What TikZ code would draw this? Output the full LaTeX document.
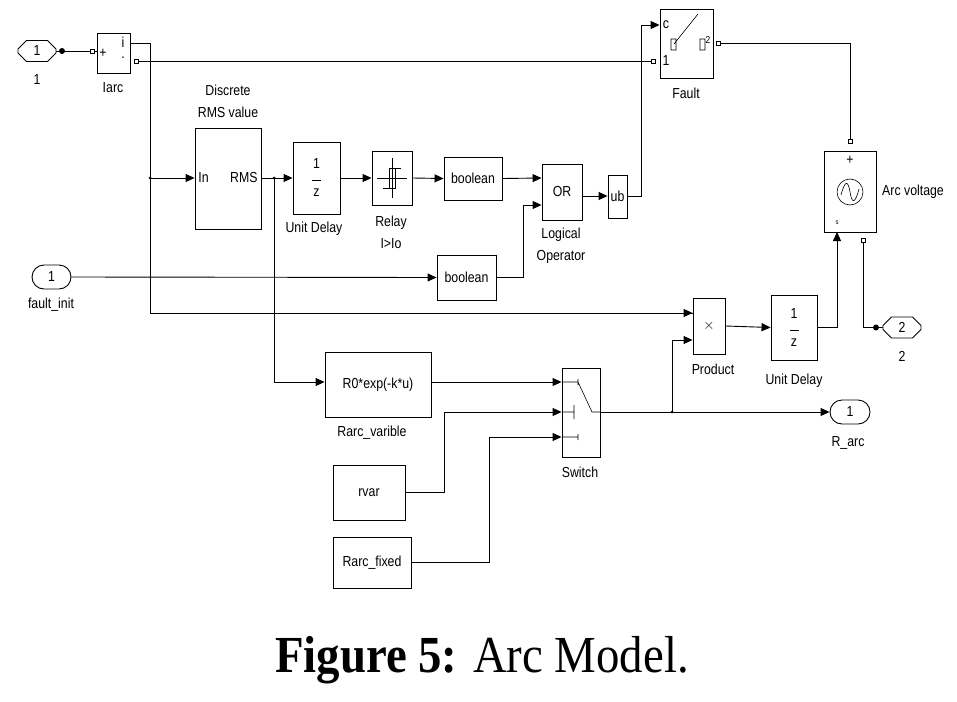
\documentclass[tikz,border=0pt]{standalone}
\usepackage{fontspec}
\setmainfont{Liberation Sans}[FakeStretch=0.85]
\newfontfamily\capfont{Liberation Serif}[FakeStretch=0.9]
\usetikzlibrary{arrows.meta,shapes.misc,shapes.geometric}
\begin{document}
\begin{tikzpicture}[x=1pt,y=-1pt,line width=0.9pt,
  blk/.style={draw,minimum width=0pt,minimum height=0pt,inner sep=0pt,font=\fontsize{14.5}{16}\selectfont},
  lab/.style={font=\fontsize{14.5}{16}\selectfont,inner sep=0pt},
  arr/.style={-{Triangle[length=9pt,width=8pt]}},
  sq/.style={draw,fill=white,minimum size=4pt,inner sep=0pt,line width=0.6pt},
  dot/.style={circle,fill,inner sep=0pt,minimum size=3pt}]
\useasboundingbox (0,0) rectangle (957,701);
% blocks
\node[blk,chamfered rectangle,chamfered rectangle xsep=8pt,minimum width=38pt,minimum height=21pt] (in1) at (37,51) {1};
\node[lab] (in1l) at (37,80) {1};
\node[blk,minimum width=33pt,minimum height=40pt] (iarc) at (113.5,53) {};
\node[lab] at (103,53) {+};
\node[lab] at (123,42) {i};
\node[lab] at (123,58) {.};
\node[lab] (iarcl) at (113,88) {Iarc};
\node[blk,minimum width=66pt,minimum height=101pt] (rms) at (228,178.5) {};
\node[lab,align=center] (rmsl) at (228,101) {Discrete\\[6pt]RMS value};
\node[lab,anchor=west] at (198,178) {In};
\node[lab,anchor=east] at (258,178) {RMS};
\node[blk,minimum width=47pt,minimum height=72pt,align=center] (ud1) at (316.5,178) {1\\[-4pt]\rule{9pt}{0.7pt}\\[0pt]z};
\node[lab] (ud1l) at (314,229) {Unit Delay};
\node[blk,minimum width=40pt,minimum height=54pt] (relay) at (392,178) {};
\draw[line width=0.6pt] (377,178)--(407,178) (392,158)--(392,198)
  (383,188)--(395,188)--(395,168) (389,188)--(389,168)--(401,168);
\node[lab,align=center] (relayl) at (391,232) {Relay\\[6pt]I>Io};
\node[blk,minimum width=58pt,minimum height=43pt] (bool1) at (473,178.5) {boolean};
\node[blk,minimum width=40pt,minimum height=56pt] (or) at (562,192) {OR};
\node[lab,align=center] (orl) at (561,246) {Logical\\[6pt]Operator};
\node[blk,minimum width=19pt,minimum height=43pt] (ub) at (617.5,196.5) {ub};
\node[blk,minimum width=53pt,minimum height=69pt] (fault) at (686.5,43.5) {};
\node[lab] at (666,25) {c};
\node[lab] at (666,61) {1};
\draw[line width=0.6pt] (671,39) rectangle (676,50) (700,39) rectangle (705,50) (674,44)--(698,14);
\node[lab,font=\fontsize{10}{11}\selectfont] at (708,40) {2};
\node[lab] (faultl) at (686,93) {Fault};
\node[blk,minimum width=52pt,minimum height=81pt] (av) at (850,191.5) {};
\draw[line width=0.6pt] (850,192) circle (13pt);
\draw[line width=0.6pt] (841,195) .. controls (845,180) and (848,180) .. (850,192) .. controls (852,204) and (855,204) .. (859,189);
\node[lab] at (850,160) {+};
\node[lab,font=\fontsize{7}{8}\selectfont] at (837,223) {s};
\node[lab] (avl) at (913,192) {Arc voltage};
\node[blk,chamfered rectangle,chamfered rectangle xsep=8pt,minimum width=38pt,minimum height=21pt] (out2) at (902,327.5) {2};
\node[lab] (out2l) at (902,356) {2};
\node[blk,rounded rectangle,minimum width=39pt,minimum height=24pt] (fi) at (51.5,277) {1};
\node[lab] (fil) at (51,305) {fault\_init};
\node[blk,minimum width=59pt,minimum height=45pt] (bool2) at (466.5,277.5) {boolean};
\node[blk,minimum width=32pt,minimum height=56pt] (prod) at (709,326) {$\times$};
\node[lab] (prodl) at (713,369) {Product};
\node[blk,minimum width=46pt,minimum height=65pt,align=center] (ud2) at (794,327.5) {1\\[-4pt]\rule{9pt}{0.7pt}\\[0pt]z};
\node[lab] (ud2l) at (794,381) {Unit Delay};
\node[blk,minimum width=106pt,minimum height=65pt] (rv) at (378,384.5) {R0*exp(-k*u)};
\node[lab] (rvl) at (372,433) {Rarc\_varible};
\node[blk,minimum width=38pt,minimum height=89pt] (sw) at (581,412.5) {};
\draw[line width=0.6pt] (563,382)--(578,382) (578,379)--(578,385) (563,412)--(574,412) (574,405)--(574,419)
  (563,437)--(578,437) (578,434)--(578,440) (578,382)--(592,412)--(600,412);
\node[lab] (swl) at (580,472) {Switch};
\node[blk,rounded rectangle,minimum width=40pt,minimum height=24pt] (rarc) at (850,412) {1};
\node[lab] (rarcl) at (848,443) {R\_arc};
\node[blk,minimum width=72pt,minimum height=55pt] (rvar) at (369,492.5) {rvar};
\node[blk,minimum width=78pt,minimum height=51pt] (rf) at (372,562.5) {Rarc\_fixed};
% coordinates
\coordinate (j1) at (150,178);
\coordinate (j2) at (274,178);
\coordinate (j3) at (672,412);
% connectors
\draw (in1.east)--(iarc.west|-0,51);
\node[dot,minimum size=6pt] at (62,51) {};
\node[sq] at (92,51) {};
\draw (130,43)--(150,43)--(150,313)--(prod.west|-0,313);
\draw[arr] (150,313)--(prod.west|-0,313);
\draw[arr] (j1)--(rms.west|-j1);
\node[dot] at (j1) {};
\draw (136,61)--(653,61);
\node[sq] at (136,61) {};
\node[sq] at (653,61) {};
\draw[arr] (rms.east|-j2)--(ud1.west|-j2);
\draw[arr] (j2)--(274,382)--(rv.west|-0,382);
\node[dot] at (j2) {};
\draw[arr] (ud1.east)--(relay.west);
\draw[arr] (relay.east)--(bool1.west);
\draw[arr] (bool1.east)--(or.west|-0,178);
\draw[arr] (ub.east)--(641,196.5)--(641,25)--(fault.west|-0,25);
\draw[arr] (or.east|-0,196)--(ub.west|-0,196);
\draw[arr] (fi.east)--(bool2.west);
\draw[arr] (bool2.east)--(523,277.5)--(523,205)--(or.west|-0,205);
\draw (718,43)--(850,43)--(850,141);
\node[sq] at (718,43) {};
\node[sq] at (850,141) {};
\draw[arr] (ud2.east)--(837,327.5)--(837,232);
\draw (863,240)--(863,327.5)--(out2.west);
\node[sq] at (863,240) {};
\node[dot,minimum size=6pt] at (876,327.5) {};
\draw[arr] (prod.east)--(ud2.west);
\draw[arr] (rv.east|-0,382)--(sw.west|-0,382);
\draw[arr] (rvar.east)--(444,492.5)--(444,412)--(sw.west|-0,412);
\draw[arr] (rf.east)--(489,562.5)--(489,437)--(sw.west|-0,437);
\draw[arr] (sw.east|-0,412)--(rarc.west);
\draw[arr] (j3)--(672,340)--(prod.west|-0,340);
\node[dot] at (j3) {};
% caption
\node[font=\capfont\fontsize{52}{56}\selectfont,inner sep=0pt] (cap) at (482,660) {\textbf{Figure 5:} Arc Model.};
\end{tikzpicture}
\end{document}
